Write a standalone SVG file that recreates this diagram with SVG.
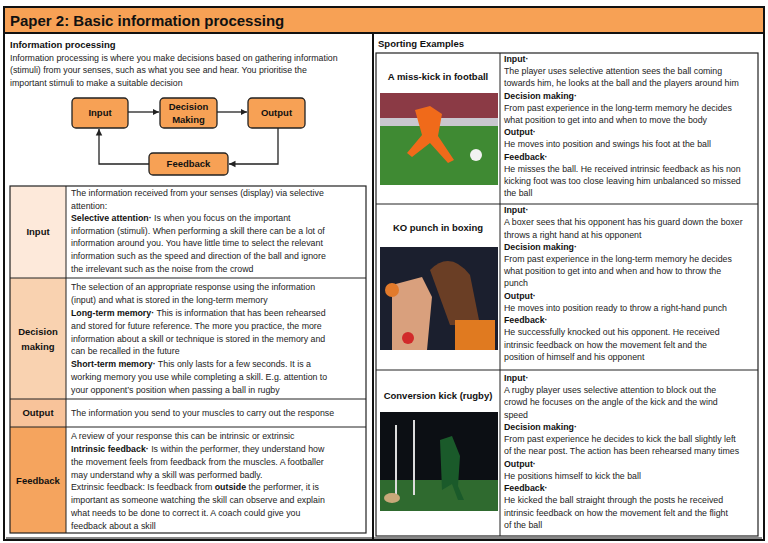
<svg xmlns="http://www.w3.org/2000/svg" width="768" height="543" viewBox="0 0 768 543">
<style>
text{font-family:"Liberation Sans",Arial,sans-serif;font-size:8.8px;fill:#222}
.b{font-weight:bold;fill:#111}
.h{font-size:15px;font-weight:bold;fill:#111}
.lab{font-size:9.5px;font-weight:bold;text-anchor:middle;fill:#111}
.nd{fill:#f7a155;stroke:#222;stroke-width:1.3}
.ln{fill:none;stroke:#222;stroke-width:1.3}
.cell{fill:#fff;stroke:#222;stroke-width:1}
</style>
<defs><marker id="a" markerWidth="6" markerHeight="6" refX="5" refY="3" orient="auto"><path d="M0,0.5L5,3L0,5.5z" fill="#222"/></marker></defs>
<rect width="768" height="543" fill="#fff"/>
<rect x="4" y="7" width="760" height="533" fill="#fff" stroke="#111" stroke-width="2"/>
<rect x="4" y="7" width="760" height="26" fill="#f7a155" stroke="#111" stroke-width="2"/>
<text class="h" x="10" y="26">Paper 2: Basic information processing</text>
<line x1="373" y1="33" x2="373" y2="540" stroke="#111" stroke-width="2"/>
<line x1="6" y1="538" x2="762" y2="538" stroke="#111" stroke-width="1"/>

<text class="b" x="10" y="48" style="font-size:9.5px">Information processing</text>
<text x="10" y="61">Information processing is where you make decisions based on gathering information</text>
<text x="10" y="73">(stimuli) from your senses, such as what you see and hear. You prioritise the</text>
<text x="10" y="86">important stimuli to make a suitable decision</text>

<g id="connectors">
<path class="ln" d="M128,112H159" marker-end="url(#a)"/>
<path class="ln" d="M217,112H247" marker-end="url(#a)"/>
<path class="ln" d="M278,128V164H229" marker-end="url(#a)"/>
<path class="ln" d="M149,164H99V129" marker-end="url(#a)"/>
</g>
<g id="n-input"><rect class="nd" x="72" y="98" width="56" height="30" rx="4"/><text class="lab" x="100" y="116">Input</text></g>
<g id="n-decision"><rect class="nd" x="160" y="98" width="57" height="30" rx="4"/><text class="lab" x="188.5" y="110">Decision</text><text class="lab" x="188.5" y="123">Making</text></g>
<g id="n-output"><rect class="nd" x="248" y="98" width="57" height="30" rx="4"/><text class="lab" x="276.5" y="116">Output</text></g>
<g id="n-feedback"><rect class="nd" x="149" y="153" width="79" height="22" rx="4"/><text class="lab" x="188.5" y="167">Feedback</text></g>

<g id="left-table">
<rect x="10" y="186" width="56" height="92" fill="#fde9da"/>
<rect x="10" y="278" width="56" height="121" fill="#f9d2b0"/>
<rect x="10" y="399" width="56" height="28" fill="#f8c39a"/>
<rect x="10" y="427" width="56" height="106" fill="#f5a45e"/>
<rect x="10" y="186" width="356" height="347" fill="none" stroke="#222" stroke-width="1.2"/>
<line x1="66" y1="186" x2="66" y2="533" stroke="#222"/>
<line x1="10" y1="278" x2="366" y2="278" stroke="#222"/>
<line x1="10" y1="399" x2="366" y2="399" stroke="#222"/>
<line x1="10" y1="427" x2="366" y2="427" stroke="#222"/>
<text class="lab" x="38" y="235">Input</text>
<text class="lab" x="38" y="335">Decision</text>
<text class="lab" x="38" y="350">making</text>
<text class="lab" x="38" y="416">Output</text>
<text class="lab" x="38" y="484">Feedback</text>
<text x="71" y="196">The information received from your senses (display) via selective</text>
<text x="71" y="209">attention:</text>
<text x="71" y="221"><tspan class="b">Selective attention·</tspan> Is when you focus on the important</text>
<text x="71" y="234">information (stimuli). When performing a skill there can be a lot of</text>
<text x="71" y="246">information around you. You have little time to select the relevant</text>
<text x="71" y="259">information such as the speed and direction of the ball and ignore</text>
<text x="71" y="272">the irrelevant such as the noise from the crowd</text>
<text x="71" y="290">The selection of an appropriate response using the information</text>
<text x="71" y="303">(input) and what is stored in the long-term memory</text>
<text x="71" y="316"><tspan class="b">Long-term memory·</tspan> This is information that has been rehearsed</text>
<text x="71" y="329">and stored for future reference. The more you practice, the more</text>
<text x="71" y="342">information about a skill or technique is stored in the memory and</text>
<text x="71" y="354">can be recalled in the future</text>
<text x="71" y="367"><tspan class="b">Short-term memory·</tspan> This only lasts for a few seconds. It is a</text>
<text x="71" y="380">working memory you use while completing a skill. E.g. attention to</text>
<text x="71" y="393">your opponent’s position when passing a ball in rugby</text>
<text x="71" y="416">The information you send to your muscles to carry out the response</text>
<text x="71" y="439">A review of your response this can be intrinsic or extrinsic</text>
<text x="71" y="452"><tspan class="b">Intrinsic feedback·</tspan> Is within the performer, they understand how</text>
<text x="71" y="465">the movement feels from feedback from the muscles. A footballer</text>
<text x="71" y="478">may understand why a skill was performed badly.</text>
<text x="71" y="490">Extrinsic feedback: Is feedback from <tspan class="b">outside</tspan> the performer, it is</text>
<text x="71" y="503">important as someone watching the skill can observe and explain</text>
<text x="71" y="516">what needs to be done to correct it. A coach could give you</text>
<text x="71" y="529">feedback about a skill</text>
</g>

<text class="b" x="378" y="47" style="font-size:9.5px">Sporting Examples</text>
<g id="right-table">
<rect x="376" y="53" width="382" height="483" fill="none" stroke="#222" stroke-width="1.2"/>
<line x1="500" y1="53" x2="500" y2="536" stroke="#222"/>
<line x1="376" y1="204" x2="758" y2="204" stroke="#222"/>
<line x1="376" y1="370" x2="758" y2="370" stroke="#222"/>
<text class="lab" x="438" y="80">A miss-kick in football</text>
<text class="lab" x="438" y="231">KO punch in boxing</text>
<text class="lab" x="438" y="399">Conversion kick (rugby)</text>
</g>
<g id="photo-football">
<rect x="380" y="93" width="118" height="92" fill="#3f8a33"/>
<rect x="380" y="93" width="118" height="30" fill="#8b3a45"/>
<rect x="380" y="118" width="118" height="8" fill="#c9c7cf"/>
<path d="M415,110 l15,-4 l12,8 l-4,22 l16,24 l-6,3 l-18,-20 l-18,14 l-5,-4 l15,-18 z" fill="#f06a1a"/>
<circle cx="476" cy="155" r="6" fill="#f2f2f2"/>
</g>
<g id="photo-boxing">
<rect x="380" y="247" width="118" height="103" fill="#1b1f2e"/>
<path d="M392,285 l30,-8 l10,20 l-5,53 h-35 z" fill="#d9a07d"/>
<path d="M430,270 q20,-20 40,5 l10,50 h-30 z" fill="#6a3e25"/>
<rect x="455" y="320" width="40" height="30" fill="#e07a20"/>
<circle cx="392" cy="290" r="7" fill="#e27a2b"/>
<circle cx="408" cy="338" r="6" fill="#d12a2a"/>
</g>
<g id="photo-rugby">
<rect x="380" y="412" width="118" height="99" fill="#0c0f14"/>
<rect x="380" y="480" width="118" height="31" fill="#2f6a2f"/>
<rect x="395" y="425" width="2" height="70" fill="#ddd"/>
<rect x="413" y="420" width="2" height="75" fill="#ddd"/>
<path d="M440,440 l12,-4 l8,20 l-2,30 l6,14 h-6 l-6,-16 l-10,6 z" fill="#1a5a2a"/>
<ellipse cx="392" cy="498" rx="8" ry="5" fill="#c9a97a"/>
</g>
<g id="right-text">
<text class="b" x="504" y="62">Input·</text>
<text x="504" y="74">The player uses selective attention sees the ball coming</text>
<text x="504" y="86">towards him, he looks at the ball and the players around him</text>
<text class="b" x="504" y="99">Decision making·</text>
<text x="504" y="111">From past experience in the long-term memory he decides</text>
<text x="504" y="123">what position to get into and when to move the body</text>
<text class="b" x="504" y="135">Output·</text>
<text x="504" y="147">He moves into position and swings his foot at the ball</text>
<text class="b" x="504" y="160">Feedback·</text>
<text x="504" y="172">He misses the ball. He received intrinsic feedback as his non</text>
<text x="504" y="184">kicking foot was too close leaving him unbalanced so missed</text>
<text x="504" y="196">the ball</text>

<text class="b" x="504" y="213">Input·</text>
<text x="504" y="225">A boxer sees that his opponent has his guard down the boxer</text>
<text x="504" y="238">throws a right hand at his opponent</text>
<text class="b" x="504" y="250">Decision making·</text>
<text x="504" y="262">From past experience in the long-term memory he decides</text>
<text x="504" y="274">what position to get into and when and how to throw the</text>
<text x="504" y="286">punch</text>
<text class="b" x="504" y="299">Output·</text>
<text x="504" y="311">He moves into position ready to throw a right-hand punch</text>
<text class="b" x="504" y="323">Feedback·</text>
<text x="504" y="335">He successfully knocked out his opponent. He received</text>
<text x="504" y="348">intrinsic feedback on how the movement felt and the</text>
<text x="504" y="360">position of himself and his opponent</text>

<text class="b" x="504" y="381">Input·</text>
<text x="504" y="393">A rugby player uses selective attention to block out the</text>
<text x="504" y="405">crowd he focuses on the angle of the kick and the wind</text>
<text x="504" y="418">speed</text>
<text class="b" x="504" y="430">Decision making·</text>
<text x="504" y="442">From past experience he decides to kick the ball slightly left</text>
<text x="504" y="454">of the near post. The action has been rehearsed many times</text>
<text class="b" x="504" y="467">Output·</text>
<text x="504" y="479">He positions himself to kick the ball</text>
<text class="b" x="504" y="491">Feedback·</text>
<text x="504" y="503">He kicked the ball straight through the posts he received</text>
<text x="504" y="516">intrinsic feedback on how the movement felt and the flight</text>
<text x="504" y="528">of the ball</text>
</g>
</svg>
